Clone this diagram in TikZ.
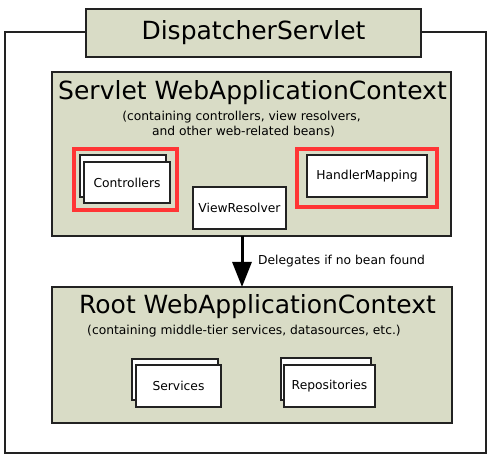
\documentclass[tikz,border=0pt]{standalone}
\usepackage{fontspec}
\setmainfont{DejaVu Sans}
\usetikzlibrary{arrows.meta}
\definecolor{ctxfill}{HTML}{D9DCC6}
\definecolor{hlred}{HTML}{FF3535}
\definecolor{edgecol}{HTML}{222222}
\begin{document}
\begin{tikzpicture}[x=1pt,y=-1pt,
  rect/.style n args={2}{rectangle, inner sep=0pt, outer sep=0pt, minimum width=#1, minimum height=#2},
  framebox/.style={draw=edgecol, line width=2pt},
  ctxbox/.style={draw=edgecol, line width=2pt, fill=ctxfill},
  beanbox/.style={draw=edgecol, line width=1.3pt, fill=white, font=\fontsize{12.3}{14.5}\selectfont},
  redbox/.style={draw=hlred, line width=4pt},
  bigtitle/.style={font=\fontsize{25}{30}\selectfont, inner sep=0pt},
  smalltext/.style={font=\fontsize{12.3}{14.5}\selectfont, inner sep=0pt},
  delegarrow/.style={line width=3pt, -{Triangle[length=25pt, width=19pt]}}
]
\useasboundingbox (0,0) rectangle (493,457);

% outer frame
\node[framebox, rect={481pt}{421pt}] (frame) at (245.5,242.5) {};
% dispatcher servlet
\node[ctxbox, rect={335pt}{48pt}, font=\fontsize{25}{30}\selectfont] (disp) at (253.5,33) {DispatcherServlet};

% servlet context
\node[ctxbox, rect={399pt}{164pt}] (servlet) at (251.5,154) {};
\node[bigtitle, anchor=base] (servlettitle) at (252.5,100) {Servlet WebApplicationContext};
\node[smalltext, anchor=base] (servletsubA) at (241.5,121) {(containing controllers, view resolvers,};
\node[smalltext, anchor=base] (servletsubB) at (243.5,135.5) {and other web-related beans)};

\node[beanbox, rect={86pt}{42pt}] (ctrlback) at (123,176) {};
\node[beanbox, rect={86pt}{41pt}] (ctrl) at (127,182.5) {Controllers};
\node[redbox, rect={103pt}{61pt}] (redctrl) at (125.5,179.5) {};

\node[beanbox, rect={93pt}{42pt}] (viewres) at (239.5,208) {ViewResolver};

\node[beanbox, rect={120pt}{42pt}] (hm) at (367,176) {HandlerMapping};
\node[redbox, rect={140pt}{58pt}] (redhm) at (367,178) {};

% root context
\node[ctxbox, rect={400pt}{136pt}] (root) at (252,355) {};
\node[bigtitle, anchor=base] (roottitle) at (257.5,313) {Root WebApplicationContext};
\node[smalltext, anchor=base] (rootsub) at (244,334.5) {(containing middle-tier services, datasources, etc.)};

\node[beanbox, rect={86pt}{41pt}] (servback) at (175,379.5) {};
\node[beanbox, rect={85pt}{42pt}] (serv) at (178.5,386) {Services};
\node[beanbox, rect={90pt}{42pt}] (repoback) at (326,379) {};
\node[beanbox, rect={91pt}{42pt}] (repo) at (329.5,386) {Repositories};

% delegation arrow
\draw[delegarrow] ([xshift=-9.5pt]servlet.south) -- ([xshift=-10pt]root.north);
\node[smalltext, anchor=base west] (deleg) at (258,264.5) {Delegates if no bean found};
\end{tikzpicture}
\end{document}
